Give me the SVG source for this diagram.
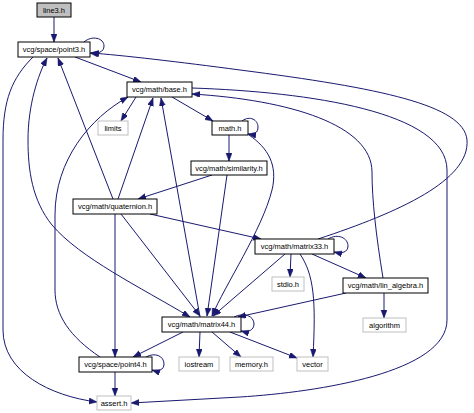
<svg xmlns="http://www.w3.org/2000/svg" width="474" height="413" viewBox="0 0 474 413">
<style>
.n rect{fill:#fff;stroke:#000;stroke-width:1}
.g rect{fill:#fff;stroke:#bfbfbf;stroke-width:1}
.root rect{fill:#bfbfbf;stroke:#000;stroke-width:1}
text{font-family:"Liberation Sans",Arial,sans-serif;font-size:7.5px;fill:#000;text-anchor:middle}
#edges path{fill:none;stroke:#191970;stroke-width:1;marker-end:url(#ah)}
#edges path.both{marker-start:url(#ah)}
</style>
<defs>
<marker id="ah" markerUnits="userSpaceOnUse" markerWidth="9" markerHeight="7" refX="8" refY="3" orient="auto-start-reverse">
<path d="M0,0 L8,3 L0,6 z" fill="#191970" stroke="#191970" stroke-width="0.5"/>
</marker>
</defs>
<rect width="474" height="413" fill="#fff"/>
<g id="edges">
<path d="M54,17 L54,42"/>
<path d="M84,42 C92,35 104,38 104,46 C104,52 98,54 90,53"/>
<path d="M75,57 L141,82"/>
<path d="M33,57 C12,78 3,100 3,140 L3,330 C3,372 50,396 97,402"/>
<path d="M318,239 C400,212 470,180 467,140 C464,105 380,88 240,70 C180,62 120,55 91,53"/>
<path class="both" d="M190,317 C140,287 80,258 52,225 C32,200 28,170 28,140 C28,105 38,75 47,58"/>
<path d="M113,199 L58,58"/>
<path d="M118,199 L153,98"/>
<path d="M200,317 L161,98"/>
<path d="M100,357 C70,337 55,315 55,290 L55,215 C55,160 90,118 128,97"/>
<path d="M136,97 L121,121"/>
<path d="M172,97 L213,121"/>
<path d="M192,88 C310,92 447,112 447,170 L447,320 C447,372 320,392 240,397 L131,403"/>
<path d="M383,278 C376,235 372,200 372,172 C372,125 290,100 192,94"/>
<path d="M242,121 C250,115 258,120 258,127 C258,133 254,135 248,134"/>
<path d="M229,135 L229,161"/>
<path d="M249,135 C268,148 278,165 272,190 C262,230 225,285 212,316"/>
<path d="M212,175 L138,199"/>
<path d="M227,175 L207,316"/>
<path d="M150,214 L261,239"/>
<path d="M115,214 L115,357"/>
<path d="M121,214 L200,316"/>
<path d="M328,239 C338,233 348,238 348,246 C348,252 342,254 334,252"/>
<path d="M291,254 L290,277"/>
<path d="M312,254 L366,278"/>
<path d="M285,254 L213,316"/>
<path d="M300,254 C314,275 316,300 313,357"/>
<path d="M384,293 L384,318"/>
<path d="M346,293 L238,317"/>
<path d="M234,317 C244,312 254,316 254,324 C254,330 248,333 241,331"/>
<path d="M183,332 L133,357"/>
<path d="M200,332 L199,357"/>
<path d="M212,332 L241,357"/>
<path d="M230,332 L297,358"/>
<path d="M146,357 C155,352 164,356 164,364 C164,370 158,372 152,370"/>
<path d="M115,372 L115,396"/>
</g>
<g id="line3" class="root"><rect x="37" y="3" width="34" height="14"/><text x="54" y="12.5">line3.h</text></g>
<g id="point3" class="n"><rect x="18" y="42" width="72" height="15"/><text x="54" y="52">vcg/space/point3.h</text></g>
<g id="base" class="n"><rect x="127" y="82" width="65" height="15"/><text x="159.5" y="92">vcg/math/base.h</text></g>
<g id="limits" class="g"><rect x="98" y="121" width="30" height="14"/><text x="113" y="130.5">limits</text></g>
<g id="math" class="n"><rect x="212" y="121" width="36" height="14"/><text x="230" y="130.5">math.h</text></g>
<g id="similarity" class="n"><rect x="191" y="161" width="76" height="14"/><text x="229" y="170.5">vcg/math/similarity.h</text></g>
<g id="quaternion" class="n"><rect x="73" y="199" width="84" height="15"/><text x="115" y="209">vcg/math/quaternion.h</text></g>
<g id="matrix33" class="n"><rect x="255" y="239" width="79" height="15"/><text x="294.5" y="249">vcg/math/matrix33.h</text></g>
<g id="stdio" class="g"><rect x="272" y="277" width="32" height="14"/><text x="288" y="286.5">stdio.h</text></g>
<g id="lin_algebra" class="n"><rect x="343" y="278" width="85" height="15"/><text x="385.5" y="288">vcg/math/lin_algebra.h</text></g>
<g id="algorithm" class="g"><rect x="363" y="318" width="43" height="14"/><text x="384.5" y="327.5">algorithm</text></g>
<g id="matrix44" class="n"><rect x="162" y="317" width="79" height="15"/><text x="201.5" y="327">vcg/math/matrix44.h</text></g>
<g id="iostream" class="g"><rect x="179" y="357" width="40" height="14"/><text x="199" y="366.5">iostream</text></g>
<g id="memory" class="g"><rect x="230" y="357" width="43" height="14"/><text x="251.5" y="366.5">memory.h</text></g>
<g id="vector" class="g"><rect x="297" y="357" width="31" height="14"/><text x="312.5" y="366.5">vector</text></g>
<g id="point4" class="n"><rect x="79" y="357" width="73" height="15"/><text x="115.5" y="367">vcg/space/point4.h</text></g>
<g id="assert" class="g"><rect x="97" y="396" width="34" height="14"/><text x="114" y="405.5">assert.h</text></g>
</svg>
